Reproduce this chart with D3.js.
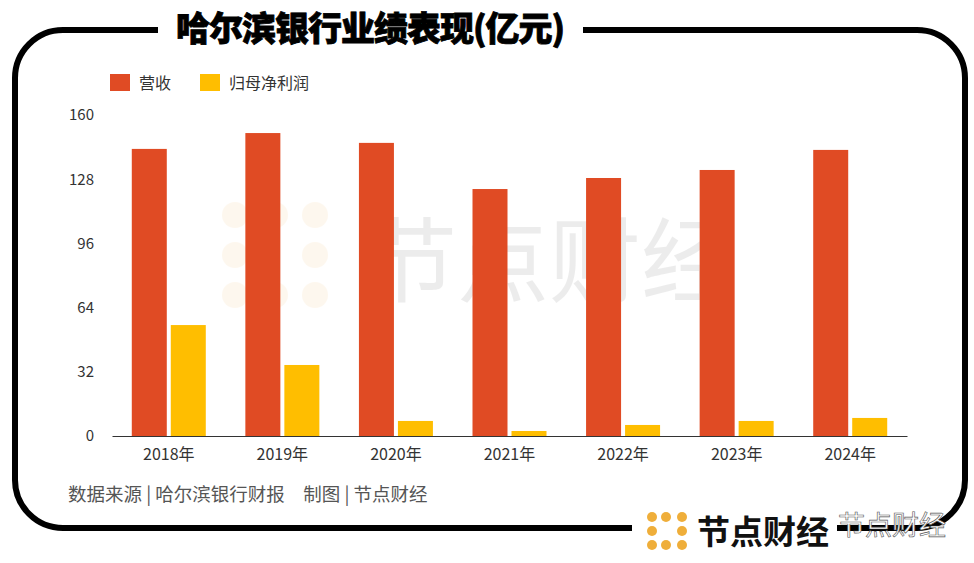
<!DOCTYPE html>
<html><head><meta charset="utf-8">
<script src="https://cdn.jsdelivr.net/npm/d3@7"></script>
<style>body{margin:0;background:#fff}svg{display:block}</style>
</head><body><svg id="c" width="974" height="563"></svg>
<script>
const categories=["2018年","2019年","2020年","2021年","2022年","2023年","2024年"];
const revenue=[143.1,151.0,146.1,123.1,128.6,132.6,142.6];
const profit=[55.3,35.4,7.5,2.5,5.5,7.5,9.0];
const yTicks=[0,32,64,96,128,160];
const seriesNames=["营收","归母净利润"];
const colors=["#E04B24","#FFBE00"];
const F="'Noto Sans CJK SC','Noto Sans',sans-serif";
const svg=d3.select("#c");
svg.append("rect").attr("x",15).attr("y",30).attr("width",950).attr("height",498).attr("rx",48)
 .attr("fill","none").attr("stroke","#000").attr("stroke-width",6);
svg.append("rect").attr("x",158).attr("y",6).attr("width",425).attr("height",44).attr("fill","#fff");
svg.append("text").attr("x",370).attr("y",41).attr("text-anchor","middle").attr("font-family",F)
 .attr("font-weight",900).attr("font-size",34).attr("letter-spacing",-1).attr("fill","#000")
 .attr("stroke","#000").attr("stroke-width",0.8).text("哈尔滨银行业绩表现(亿元)");
const wm=svg.append("g").attr("opacity",0.07);
wm.append("text").attr("x",365).attr("y",295).attr("font-family",F).attr("font-size",92).attr("fill","#000").text("节点财经");
[[235,215],[275,215],[315,215],[235,255],[315,255],[235,295],[275,295],[315,295]].forEach(p=>
 wm.append("circle").attr("cx",p[0]).attr("cy",p[1]).attr("r",13).attr("fill","#f0a020"));
const x=d3.scaleBand().domain(categories).range([112,907]);
const y=d3.scaleLinear().domain([0,160]).range([436,115]);
const bw=35;
const g=svg.append("g");
g.selectAll(".r").data(revenue).join("rect").attr("x",(d,i)=>x(categories[i])+x.bandwidth()/2-bw-2)
 .attr("y",d=>y(d)).attr("width",bw).attr("height",d=>y(0)-y(d)).attr("fill",colors[0]);
g.selectAll(".p").data(profit).join("rect").attr("x",(d,i)=>x(categories[i])+x.bandwidth()/2+2)
 .attr("y",d=>y(d)).attr("width",bw).attr("height",d=>y(0)-y(d)).attr("fill",colors[1]);
const xa=svg.append("g").attr("transform","translate(0,436)").call(d3.axisBottom(x).tickSize(0).tickPadding(13));
xa.select(".domain").attr("stroke","#333");
xa.selectAll("text").attr("font-family",F).attr("font-size",16).attr("fill","#333");
const ya=svg.append("g").attr("transform","translate(97,0)").call(d3.axisLeft(y).tickValues(yTicks).tickSize(0));
ya.select(".domain").remove();
ya.selectAll("text").attr("font-family",F).attr("font-size",15).attr("fill","#333");
seriesNames.forEach((n,i)=>{
 const lx=[110,200][i];
 svg.append("rect").attr("x",lx).attr("y",74).attr("width",20).attr("height",17).attr("fill",colors[i]);
 svg.append("text").attr("x",lx+29).attr("y",89).attr("font-family",F).attr("font-size",16).attr("fill","#333").text(n);
});
svg.append("text").attr("x",68).attr("y",501).attr("font-family",F).attr("font-size",18.5).attr("fill","#555")
 .text("数据来源 | 哈尔滨银行财报　制图 | 节点财经");
svg.append("rect").attr("x",632).attr("y",505).attr("width",205).attr("height",50).attr("fill","#fff");
const lg=svg.append("g").attr("fill","#EFAE3A");
[[652,517],[666,517],[682,517],[652,531],[682,531],[652,545],[666,545],[682,545]].forEach(p=>
 lg.append("circle").attr("cx",p[0]).attr("cy",p[1]).attr("r",5));
svg.append("text").attr("x",697).attr("y",544).attr("font-family",F).attr("font-weight",700).attr("font-size",33).attr("fill","#111").text("节点财经");
svg.append("text").attr("x",838).attr("y",535).attr("font-family",F).attr("font-size",27).attr("fill","#fff")
 .attr("stroke","#555").attr("stroke-width",0.6).text("节点财经");
</script></body></html>
